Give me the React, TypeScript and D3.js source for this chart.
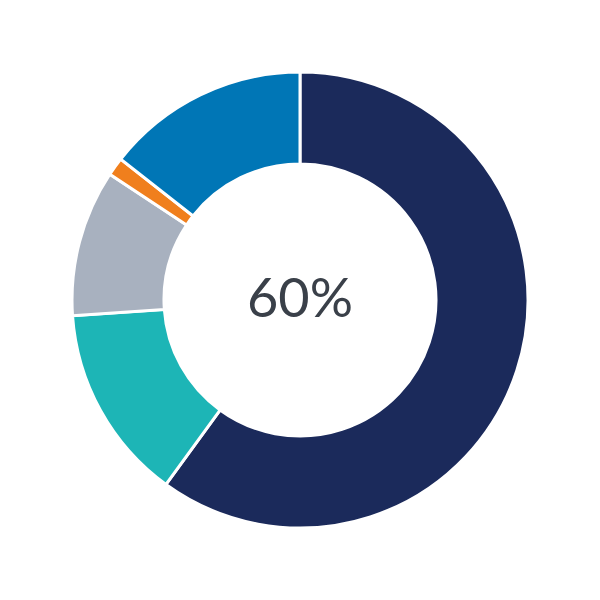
import React from 'react';
import * as d3 from 'd3';

const categories = ['Navy', 'Teal', 'Gray', 'Orange', 'Blue'];
const values = [60, 13.9, 10.4, 1.3, 14.4];
const colors = ['#1b2a5b', '#1db5b6', '#a8b1bf', '#f07f1d', '#0076b6'];
const centerLabel = '60%';

const width = 600;
const height = 600;
const outerRadius = 228;
const innerRadius = 136;

type Slice = { category: string; value: number; color: string };

function App(): React.ReactElement {
  const data: Slice[] = categories.map((c, i) => ({ category: c, value: values[i], color: colors[i] }));

  const pie = d3.pie<Slice>()
    .sort(null) // keep the original order, clockwise from the top
    .value((d) => d.value);

  const arc = d3.arc<d3.PieArcDatum<Slice>>()
    .innerRadius(innerRadius)
    .outerRadius(outerRadius);

  const arcs = pie(data);

  return (
    <svg
      width={width}
      height={height}
      style={{ position: 'absolute', left: 0, top: 0, background: '#fff' }}
    >
      <g transform={`translate(${width / 2}, ${height / 2})`}>
        {arcs.map((d) => (
          <path
            key={d.data.category}
            d={arc(d) || ''}
            fill={d.data.color}
            stroke="#fff"
            strokeWidth={3}
            strokeLinejoin="miter"
          />
        ))}
        <text
          x={0}
          y={-2}
          dy="0.35em"
          textAnchor="middle"
          fill="#3a4049"
          fontFamily="Lato, 'Open Sans', sans-serif"
          fontWeight={400}
          fontSize={54}
        >
          {centerLabel}
        </text>
      </g>
    </svg>
  );
}

export default App;
